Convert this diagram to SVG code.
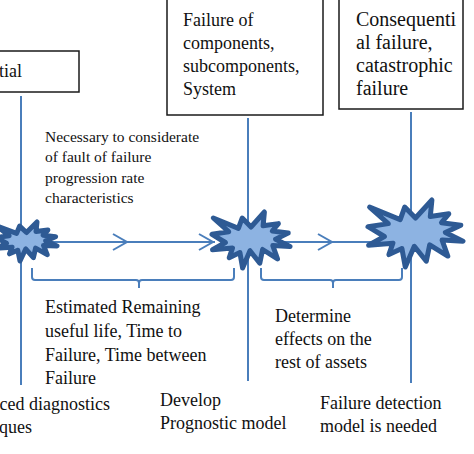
<svg xmlns="http://www.w3.org/2000/svg" width="474" height="454" viewBox="0 0 474 454" font-family="'Liberation Serif','Times New Roman',serif">
<style>
.bg{fill:#fff}
.box{fill:#fff;stroke:#1a1a1a;stroke-width:1.5}
.ln{fill:none;stroke:#4a7ebb;stroke-width:2}
.br{fill:none;stroke:#4a7ebb;stroke-width:2;stroke-linejoin:round}
.star{fill:#8db3e2;stroke:#2e5a94;stroke-width:5;stroke-linejoin:round}
text{font-family:"Liberation Serif","Times New Roman",serif;fill:#111}
.t{font-size:18px}
.m{font-size:18px}
.r{font-size:20px}
.s{font-size:15.5px}
</style>
<rect class="bg" width="474" height="454"/>
<g id="connectors">
<line class="ln" x1="21" y1="96" x2="21" y2="385"/>
<line class="ln" x1="248" y1="118" x2="248" y2="381"/>
<line class="ln" x1="411" y1="112" x2="411" y2="383"/>
<line class="ln" x1="50" y1="242" x2="215" y2="242"/>
<line class="ln" x1="285" y1="242" x2="372" y2="242"/>
<polyline class="ln" points="113,234 127,242 113,250"/>
<polyline class="ln" points="199,234 213,242 199,250"/>
<polyline class="ln" points="318,234 332,242 318,250"/>
<path class="br" d="M32,268 L32,277 Q32,280 35,280 L136,280 Q139,280 139,283 L139,288 M139,283 Q139,280 142,280 L231,280 Q234,280 234,277 L234,268"/>
<path class="br" d="M261,268 L261,277 Q261,280 264,280 L330,280 Q333,280 333,283 L333,288 M333,283 Q333,280 336,280 L399,280 Q402,280 402,277 L402,268"/>
</g>
<g id="node-left-box">
<rect class="box" x="-10" y="51" width="89" height="41"/>
<text class="t" x="22" y="77" text-anchor="end">tial</text>
</g>
<g id="node-middle-box">
<rect class="box" x="167" y="-2" width="156" height="117"/>
<text class="m" x="183" y="26">Failure of</text>
<text class="m" x="183" y="49">components,</text>
<text class="m" x="183" y="72">subcomponents,</text>
<text class="m" x="183" y="95">System</text>
</g>
<g id="node-right-box">
<rect class="box" x="339" y="-2" width="124" height="111"/>
<text class="r" x="356" y="26">Consequenti</text>
<text class="r" x="356" y="49">al failure,</text>
<text class="r" x="356" y="72">catastrophic</text>
<text class="r" x="356" y="95">failure</text>
</g>
<g id="node-star-left">
<path class="star" d="M26.5,232.5 L37,222 L36,231.6 L47.9,230 L43.2,235.2 L55.6,236.7 L45.7,240.9 L57,246 L43.5,245.4 L47.2,254.7 L35.6,248.1 L33.4,257.6 L25.7,249 L20,261 L17.8,250.2 L9.5,253.8 L12,247.2 L-3.6,248.3 L6.5,243.3 L-4,237.6 L9.1,235.8 L-3,226.1 L16.6,233.4 L19.6,226.1 Z"/>
</g>
<g id="node-star-middle">
<path class="star" d="M251,227 L264.4,212 L263.1,225.8 L278.4,223.6 L272.3,231 L288.2,233.1 L275.6,239.2 L290,246.5 L272.8,245.6 L277.5,258.9 L262.6,249.5 L259.8,263.2 L250,250.7 L242.6,268 L239.9,252.5 L229.2,257.7 L232.5,248.1 L212.5,249.8 L225.4,242.5 L212,234.3 L228.7,231.7 L213.3,218 L238.4,228.4 L242.2,218 Z"/>
</g>
<g id="node-star-right">
<path class="star" d="M415.5,218 L431.9,200 L430.3,216.5 L448.8,213.8 L441.5,222.7 L460.8,225.2 L445.4,232.5 L463,241.2 L442.1,240.1 L447.8,256.1 L429.7,244.8 L426.3,261.2 L414.3,246.3 L405.3,267 L401.9,248.5 L388.9,254.6 L392.9,243.2 L368.6,245.2 L384.4,236.5 L368,226.7 L388.3,223.6 L369.6,207.1 L400.2,219.6 L404.7,207.1 Z"/>
</g>
<g id="label-necessary">
<text class="s" x="45" y="142">Necessary to considerate</text>
<text class="s" x="45" y="162">of fault of failure</text>
<text class="s" x="45" y="183">progression rate</text>
<text class="s" x="45" y="203">characteristics</text>
</g>
<g id="label-rul">
<text class="t" x="45" y="313">Estimated Remaining</text>
<text class="t" x="45" y="337">useful life, Time to</text>
<text class="t" x="45" y="361">Failure, Time between</text>
<text class="t" x="45" y="384">Failure</text>
</g>
<g id="label-determine">
<text class="t" x="275" y="322">Determine</text>
<text class="t" x="275" y="345">effects on the</text>
<text class="t" x="275" y="368">rest of assets</text>
</g>
<g id="label-diagnostics">
<text class="t" x="110" y="410" text-anchor="end">uced diagnostics</text>
<text class="t" x="32" y="433" text-anchor="end">ques</text>
</g>
<g id="label-prognostic">
<text class="t" x="160" y="406" font-size="17.8">Develop</text>
<text class="t" x="160" y="429" font-size="17.8">Prognostic model</text>
</g>
<g id="label-detection">
<text class="t" x="320" y="409">Failure detection</text>
<text class="t" x="320" y="432">model is needed</text>
</g>
</svg>
